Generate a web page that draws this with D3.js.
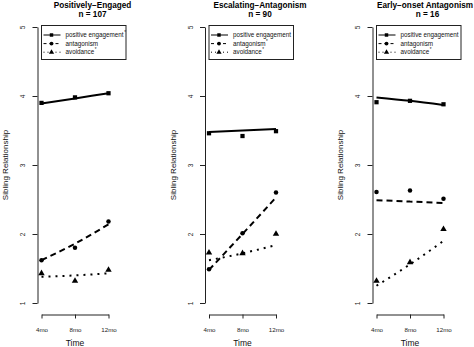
<!DOCTYPE html>
<html>
<head>
<meta charset="utf-8">
<script src="https://cdn.jsdelivr.net/npm/d3@7"></script>
<style>
  body { margin: 0; background: #fff; }
  svg { display: block; font-family: "Liberation Sans", Arial, sans-serif; }
</style>
</head>
<body>
<svg id="chart" width="474" height="347"></svg>
<script>
/************************* Data *************************/
const times = [4, 8, 12];
const timeLabels = ["4mo", "8mo", "12mo"];
const yTicks = [1, 2, 3, 4, 5];
const panelTitles = ["Positively\u2212Engaged", "Escalating\u2212Antagonism", "Early\u2212onset Antagonism"];
const panelN = [107, 90, 16];
const seriesNames = ["positive engagement", "antagonism", "avoidance"];
// which legend entries carry an asterisk, per panel
const starred = [
  [true, false, true],
  [false, true, true],
  [false, false, true],
];

// observed means (points) and fitted trajectories (lines), per panel
const posObs = [[3.90, 3.98, 4.04], [3.46, 3.42, 3.49], [3.91, 3.93, 3.88]];
const posFit = [[3.89, 3.965, 4.04], [3.48, 3.50, 3.52], [3.98, 3.93, 3.87]];
const antObs = [[1.62, 1.80, 2.18], [1.49, 2.01, 2.60], [2.61, 2.63, 2.51]];
const antFit = [[1.62, 1.86, 2.14], [1.48, 2.00, 2.53], [2.49, 2.47, 2.45]];
const avoObs = [[1.43, 1.32, 1.48], [1.73, 1.72, 2.00], [1.32, 1.59, 2.07]];
const avoFit = [[1.38, 1.40, 1.43], [1.62, 1.72, 1.84], [1.25, 1.56, 1.90]];

/************************* Layout *************************/
const svg = d3.select("svg#chart");
svg.append("rect").attr("width", 474).attr("height", 347).attr("fill", "#fff");

const panelStep = 167.5;
const axisX0 = 37.5;
const xAxisY = 314.5;

const scaleY = d3.scaleLinear().domain([1, 5]).range([303, 27]);

const styles = [
  { dash: null, legDash: null, symbol: d3.symbolSquare, size: 18 },
  { dash: "6,4", legDash: "3,3", symbol: d3.symbolCircle, size: 16 },
  { dash: "2,5", legDash: "1,3", symbol: d3.symbolTriangle, size: 18 },
];

panelTitles.forEach((title, p) => {
  const ax = axisX0 + p * panelStep;
  const scaleX = d3.scaleLinear().domain([4, 12]).range([ax + 4, ax + 71]);
  const g = svg.append("g").attr("class", "panel");

  // titles (kept inside the right edge)
  const tt = g.append("text").text(title)
    .attr("x", ax + 55).attr("y", 8)
    .attr("text-anchor", "middle").attr("fill", "#000")
    .style("font-weight", "bold").style("font-size", "8.2px");
  const tw = tt.node().getComputedTextLength();
  tt.attr("x", Math.min(ax + 55, 473 - tw / 2));
  g.append("text").text(`n = ${panelN[p]}`)
    .attr("x", ax + 55).attr("y", 16.5)
    .attr("text-anchor", "middle").attr("fill", "#000")
    .style("font-weight", "bold").style("font-size", "8.2px");

  // y axis
  const yAxis = d3.axisLeft(scaleY).tickValues(yTicks).tickSize(5).tickSizeOuter(0).tickFormat(d3.format("d"));
  const ya = g.append("g").attr("transform", `translate(${ax},0)`).call(yAxis);
  ya.selectAll("text")
    .attr("x", null).attr("dy", null)
    .attr("text-anchor", "middle")
    .attr("transform", "translate(-12.5,0) rotate(-90)")
    .style("font-size", "6.5px");

  // x axis
  const xAxis = d3.axisBottom(scaleX).tickValues(times).tickSize(4).tickSizeOuter(0)
    .tickFormat((d, i) => timeLabels[i]);
  const xa = g.append("g").attr("transform", `translate(0,${xAxisY})`).call(xAxis);
  xa.selectAll("text").attr("dy", null).attr("y", 17).style("font-size", "6.2px");

  [ya, xa].forEach((a) => {
    a.attr("font-family", null).attr("font-size", null);
    a.selectAll("path, line").attr("stroke", "#222");
    a.selectAll("text").attr("fill", "#222");
  });

  // axis labels
  g.append("text").text("Time")
    .attr("x", (scaleX(4) + scaleX(12)) / 2).attr("y", 346)
    .attr("text-anchor", "middle").attr("fill", "#111").style("font-size", "8.5px");
  g.append("text").text("Sibling Relationship")
    .attr("transform", `translate(${ax - 29.5},${(scaleY(1) + scaleY(5)) / 2}) rotate(-90)`)
    .attr("text-anchor", "middle").attr("fill", "#111").style("font-size", "8px");

  // series
  const fits = [posFit[p], antFit[p], avoFit[p]];
  const obs = [posObs[p], antObs[p], avoObs[p]];
  const line = d3.line().x((d, i) => scaleX(times[i])).y((d) => scaleY(d)).curve(d3.curveNatural);

  fits.forEach((vals, s) => {
    g.append("path").datum(vals)
      .attr("d", line)
      .attr("fill", "none")
      .attr("stroke", "#000")
      .attr("stroke-width", 2)
      .attr("stroke-dasharray", styles[s].dash);
  });
  obs.forEach((vals, s) => {
    g.selectAll(null).data(vals).join("path")
      .attr("d", d3.symbol(styles[s].symbol, styles[s].size))
      .attr("transform", (d, i) => `translate(${scaleX(times[i])},${scaleY(d)})`)
      .attr("fill", "#000");
  });

  // legend
  const lx = ax + 4, ly = 25.5;
  const leg = g.append("g").attr("transform", `translate(${lx},${ly})`);
  leg.append("rect").attr("width", 84.5).attr("height", 34)
    .attr("fill", "#fff").attr("stroke", "#222").attr("stroke-width", 1);
  seriesNames.forEach((name, s) => {
    const ry = 9.5 + s * 8.6;
    leg.append("line").attr("x1", 2).attr("x2", 19).attr("y1", ry).attr("y2", ry)
      .attr("stroke", "#000").attr("stroke-width", 1)
      .attr("stroke-dasharray", styles[s].legDash);
    leg.append("path").attr("d", d3.symbol(styles[s].symbol, 12))
      .attr("transform", `translate(10,${ry})`).attr("fill", "#000");
    const t = leg.append("text").attr("x", 24).attr("y", ry + 2.2)
      .attr("fill", "#111").style("font-size", "6.3px").text(name);
    if (starred[p][s]) {
      t.append("tspan").attr("dx", 0.5).attr("dy", -3).style("font-size", "4.5px").text("*");
    }
  });
});
</script>
</body>
</html>
